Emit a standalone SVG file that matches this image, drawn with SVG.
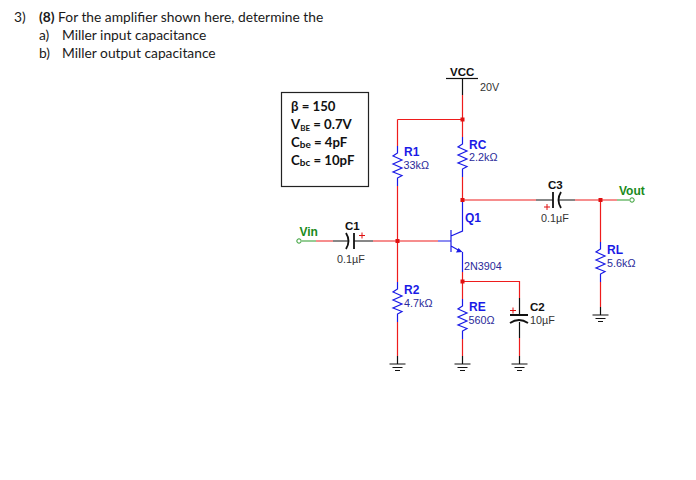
<svg xmlns="http://www.w3.org/2000/svg" width="696" height="480" viewBox="0 0 696 480">
<style>
text{font-family:"Lato","Liberation Sans",sans-serif;fill:#1a1a1a}
.q{font-size:13.800px}
.b{font-family:"Lato","Liberation Sans",sans-serif;font-size:13.200px;font-weight:700;fill:#111}
.n{font-family:"Liberation Sans",sans-serif;font-size:11.500px;font-weight:700;fill:#111}
.nb{font-family:"Liberation Sans",sans-serif;font-size:12px;font-weight:700;fill:#1a1ae6}
.v{font-family:"Liberation Sans",sans-serif;font-size:10.800px;fill:#2a2a9a}
.vk{font-family:"Liberation Sans",sans-serif;font-size:10.800px;fill:#333}
.g{font-family:"Liberation Sans",sans-serif;font-size:12px;font-weight:700;fill:#1a8a1a}
.r{fill:none;stroke:#ee1c1c;stroke-width:1.200}
.k{fill:none;stroke:#111;stroke-width:1.200}
.u{fill:none;stroke:#1a1ae6;stroke-width:1.200}
.gr{fill:none;stroke:#2a9a2a;stroke-width:1.200}
.p{fill:none;stroke:#111;stroke-width:1.800}
.d{fill:#e01010}
</style>
<defs>
<g id="gnd" class="k"><path d="M0 0V8M-8 8H8M-5 11.500H5M-2.500 14.500H2.500"/></g>
<path id="zz" class="u" d="M0 0V7L-4.500 10L4.500 14L-4.500 18L4.500 22L-4.500 26L4.500 29.500L0 32V40"/>
</defs>
<g id="question">
<text class="q" x="14" y="22">3)</text>
<text class="q" x="39" y="22"><tspan font-weight="700">(8)</tspan> For the amplifier shown here, determine the</text>
<text class="q" x="39" y="40">a)</text><text class="q" x="62" y="40">Miller input capacitance</text>
<text class="q" x="39" y="58">b)</text><text class="q" x="62" y="58">Miller output capacitance</text>
</g>
<g id="params">
<rect x="281.500" y="92.500" width="87" height="94" fill="#fff" stroke="#222" stroke-width="1.200"/>
<text class="b" x="291" y="111">β = 150</text>
<text class="b" x="291" y="129">V<tspan font-size="8" dy="2">BE</tspan><tspan dy="-2"> = 0.7V</tspan></text>
<text class="b" x="291" y="147">C<tspan font-size="10" dy="1">be</tspan><tspan dy="-1"> = 4pF</tspan></text>
<text class="b" x="291" y="165">C<tspan font-size="10" dy="1">bc</tspan><tspan dy="-1"> = 10pF</tspan></text>
</g>
<g id="connectors">
<path class="k" d="M462.500 79V95"/>
<path class="r" d="M462.500 95V137M397.500 119.500H462.500M397.500 119.500V146M397.500 186V282M462.500 177V200M462.500 200H536M575 200H617M600.500 200V242M600.500 282V307M373 241H438M316 241H333M462.500 272V299M462.500 281.500H519.500V298M397.500 322V356M462.500 339V356M519.500 338V356"/>
<path class="k" d="M333 241H348M354 241H373M536 200H553M559 200H575M519.500 298V315M519.500 322V338"/>
<path class="gr" d="M302 241H316M617 200H629"/>
</g>
<g id="VCC">
<path class="k" d="M446 78.500H478"/>
<text class="n" x="450" y="75.500">VCC</text>
<text class="vk" x="480" y="91">20V</text>
</g>
<g id="R1"><use href="#zz" x="397.500" y="146"/><text class="nb" x="404" y="156">R1</text><text class="v" x="403.500" y="168.500">33kΩ</text></g>
<g id="RC"><use href="#zz" x="462.500" y="137"/><text class="nb" x="469" y="148.500">RC</text><text class="v" x="469" y="160.500">2.2kΩ</text></g>
<g id="Q1">
<path class="u" d="M438 241H451M451 230V252M451 236L462.500 231V200M451 246L460 251M462.500 252V272"/>
<path fill="#1a1ae6" d="M462.500 252L456 252.500L458.500 248Z"/>
<text class="nb" x="465" y="222">Q1</text>
<text class="v" x="464" y="270">2N3904</text>
</g>
<g id="C1">
<path class="p" d="M346 233Q351 241 346 249M354 233V249"/>
<text class="n" x="345" y="230">C1</text>
<path d="M359 235.500H365M362 232.500V238.500" stroke="#e01010" fill="none"/>
<text class="vk" x="337" y="263">0.1µF</text>
</g>
<g id="C3">
<path class="p" d="M553 192V208M561 192Q556 200 561 208"/>
<text class="n" x="548" y="189">C3</text>
<path d="M544 207H550M547 204V210" stroke="#e01010" fill="none"/>
<text class="vk" x="541" y="222">0.1µF</text>
</g>
<g id="Vin"><circle cx="299" cy="241" r="2.200" fill="#fff" stroke="#2a9a2a"/><text class="g" x="299.500" y="236">Vin</text></g>
<g id="Vout"><circle cx="632" cy="200" r="2.200" fill="#fff" stroke="#2a9a2a"/><text class="g" x="619" y="195">Vout</text></g>
<g id="R2"><use href="#zz" x="397.500" y="282"/><text class="nb" x="404" y="294">R2</text><text class="v" x="404" y="306.500">4.7kΩ</text></g>
<g id="RE"><use href="#zz" x="462.500" y="299"/><text class="nb" x="469" y="311">RE</text><text class="v" x="468.500" y="323.500">560Ω</text></g>
<g id="C2">
<path class="p" d="M510 315H528M510 323Q519 317 528 323"/>
<path d="M510 310.500H516M513 307.500V313.500" stroke="#e01010" fill="none"/>
<text class="n" x="530" y="311">C2</text>
<text class="vk" x="530" y="324">10µF</text>
</g>
<g id="RL"><use href="#zz" x="600.500" y="242"/><text class="nb" x="607" y="254">RL</text><text class="v" x="607" y="266.500">5.6kΩ</text></g>
<g id="grounds">
<use href="#gnd" x="397.500" y="356"/><use href="#gnd" x="462.500" y="356"/><use href="#gnd" x="519.500" y="356"/><use href="#gnd" x="600.500" y="307"/>
</g>
<g id="junctions" class="d">
<rect x="460.500" y="117.500" width="4" height="4"/><rect x="460.500" y="198" width="4" height="4"/><rect x="395.500" y="239" width="4" height="4"/><rect x="460.500" y="279.500" width="4" height="4"/><rect x="598.500" y="198" width="4" height="4"/>
</g>
</svg>
